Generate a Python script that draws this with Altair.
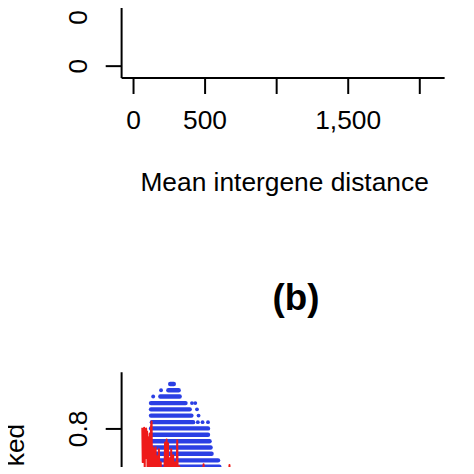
import altair as alt
import pandas as pd

FONT = "Liberation Sans"
BLUE = "#2b3fe4"
RED = "#ee1a1a"

# axis ticks
x_ticks = [0, 500, 1000, 1500, 2000]
y_ticks = [0, 0.2, 0.4, 0.6, 0.8]

# panel (b): rows of dense blue points (fraction value, first and last point of each row)
row_frac = [0.949, 0.928, 0.907, 0.885, 0.864, 0.843, 0.821, 0.800,
            0.779, 0.757, 0.736, 0.715, 0.693, 0.672, 0.651]
row_start = [260, 247, 191, 126, 126, 126, 132, 126, 126, 119, 119, 119, 119, 119, 119]
row_end = [285, 319, 326, 367, 396, 408, 420, 524, 524, 535, 542, 549, 594, 603, 625]

# isolated blue points
dot_dist = [196, 141, 412, 435, 447, 458, 453, 486, 524]
dot_frac = [0.928, 0.907, 0.885, 0.885, 0.864, 0.843, 0.821, 0.821, 0.821]

# red line
red_dist = [65, 68, 72, 75, 78, 82, 85, 89, 92, 96, 99, 103, 108, 112, 117, 122,
            126, 130, 134, 139, 144, 149, 155, 158, 163, 170, 176, 181, 188, 194,
            201, 208, 215, 224, 229, 235, 240, 245, 250, 257, 262, 267, 273, 281,
            288, 295, 302, 309, 315, 323, 330, 340, 351, 361, 375, 389, 403, 424,
            444, 465, 479, 493, 500, 521, 542, 562, 583, 604, 625, 646, 663, 674,
            681, 708, 736]
red_frac = [0.802, 0.687, 0.800, 0.727, 0.802, 0.660, 0.797, 0.743, 0.800, 0.700,
            0.790, 0.593, 0.770, 0.710, 0.783, 0.560, 0.807, 0.823, 0.577, 0.737,
            0.560, 0.730, 0.527, 0.737, 0.543, 0.707, 0.527, 0.730, 0.543, 0.687,
            0.527, 0.660, 0.543, 0.753, 0.560, 0.763, 0.560, 0.750, 0.543, 0.700,
            0.560, 0.730, 0.543, 0.710, 0.527, 0.687, 0.560, 0.760, 0.543, 0.673,
            0.527, 0.660, 0.527, 0.660, 0.510, 0.640, 0.510, 0.633, 0.510, 0.627,
            0.510, 0.680, 0.510, 0.627, 0.493, 0.633, 0.493, 0.620, 0.493, 0.627,
            0.510, 0.677, 0.510, 0.620, 0.493]
assert len(red_dist) == len(red_frac)

rows = pd.DataFrame({"frac": row_frac, "d0": row_start, "d1": row_end})
dots = pd.DataFrame({"dist": dot_dist, "frac": dot_frac})
redline = pd.DataFrame({"dist": red_dist, "frac": red_frac})
empty = pd.DataFrame({"dist": pd.Series([], dtype=float), "frac": pd.Series([], dtype=float)})

common = dict(grid=False, tickSize=16, tickWidth=2, tickColor="black",
              domainWidth=2, domainColor="black", labelFont=FONT, labelFontSize=26.5,
              labelColor="black", titleFont=FONT, titleFontSize=26.5,
              titleFontWeight="normal", titleColor="black", labelOverlap=False,
              labelFlush=False)

x_label_expr = "datum.value == 1000 || datum.value == 2000 ? '' : format(datum.value, ',')"
y_label_expr = "datum.value == 0 ? '0' : format(datum.value, '.1f')"


def x_axis(tx=None):
    kw = dict(common)
    if tx is not None:
        kw["titleX"] = tx
    return alt.Axis(values=x_ticks, labelExpr=x_label_expr, title="Mean intergene distance",
                    labelPadding=35, labelBaseline="alphabetic",
                    titleBaseline="alphabetic", titleY=113.7, **kw)


def y_axis(ty=None):
    kw = dict(common)
    if ty is not None:
        kw["titleY"] = ty
    return alt.Axis(values=y_ticks, labelExpr=y_label_expr, title="Fraction linked",
                    labelAngle=270, labelAlign="center", labelBaseline="alphabetic",
                    labelPadding=19, titleAngle=270, titleAlign="center",
                    titleBaseline="alphabetic", titleX=-98.7, **kw)


top = alt.Chart(empty).mark_point().encode(
    x=alt.X("dist:Q", scale=alt.Scale(domain=[-83, 2174], nice=False, zero=False), axis=x_axis(164)),
    y=alt.Y("frac:Q", scale=alt.Scale(domain=[-0.04, 1.04], nice=False, zero=False), axis=y_axis()),
).properties(width=325, height=324)

xb = alt.Scale(domain=[-83, 2361], nice=False, zero=False)
yb = alt.Scale(domain=[-0.09, 0.99], nice=False, zero=False)

row_layer = alt.Chart(rows).mark_rule(color=BLUE, strokeWidth=4.4, strokeCap="round").encode(
    x=alt.X("d0:Q", scale=xb, axis=x_axis()),
    x2="d1:Q",
    y=alt.Y("frac:Q", scale=yb, axis=y_axis(138)),
)
dot_layer = alt.Chart(dots).mark_circle(color=BLUE, size=15, opacity=1).encode(
    x=alt.X("dist:Q", scale=xb), y=alt.Y("frac:Q", scale=yb)
)
red_layer = alt.Chart(redline).mark_line(color=RED, strokeWidth=2, strokeJoin="round").encode(
    x=alt.X("dist:Q", scale=xb), y=alt.Y("frac:Q", scale=yb)
)

bottom = alt.layer(row_layer, dot_layer, red_layer).properties(
    width=352, height=324,
    title=alt.TitleParams("(b)", font=FONT, fontSize=37, fontWeight="bold", color="black",
                          anchor="middle", frame="group", baseline="alphabetic", offset=25),
)

chart = alt.vconcat(top, bottom, spacing=296, bounds="flush").properties(
    padding={"top": -255.4, "left": -6.2, "right": -5, "bottom": -349.6},
    background="white",
).configure_view(strokeOpacity=0, strokeWidth=0)

chart.save("out.html", embed_options={"renderer": "svg", "actions": False})
